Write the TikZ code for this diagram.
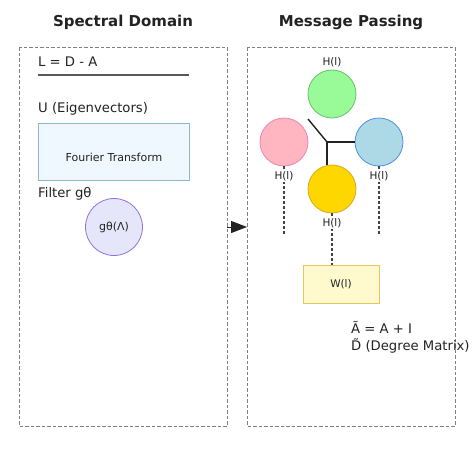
\documentclass[tikz,border=0pt]{standalone}
\usepackage{fontspec}
\setmainfont{DejaVu Sans}
\usetikzlibrary{arrows.meta}
\definecolor{boxgray}{HTML}{808080}
\definecolor{ftfill}{HTML}{F0F8FF}
\definecolor{ftdraw}{HTML}{8DB6CF}
\definecolor{lavfill}{HTML}{E6E6FA}
\definecolor{lavdraw}{HTML}{9370DB}
\definecolor{grfill}{HTML}{98FB98}
\definecolor{grdraw}{HTML}{6DBE6D}
\definecolor{pkfill}{HTML}{FFB6C1}
\definecolor{pkdraw}{HTML}{EE82B4}
\definecolor{blfill}{HTML}{ADD8E6}
\definecolor{bldraw}{HTML}{4A90E2}
\definecolor{gdfill}{HTML}{FFD700}
\definecolor{gddraw}{HTML}{DAA520}
\definecolor{wfill}{HTML}{FFFACD}
\definecolor{wdraw}{HTML}{E8C55E}
\definecolor{ink}{HTML}{222222}
\tikzset{
  panel/.style={draw=boxgray, dash pattern=on 3.5pt off 2pt, line width=0.9pt},
  title/.style={font=\bfseries\fontsize{15}{17}\selectfont, text=ink},
  lbl/.style={font=\fontsize{13.2}{15}\selectfont, text=ink, anchor=west, inner sep=0pt},
  small/.style={font=\fontsize{11}{13}\selectfont, text=ink, inner sep=1pt},
  tiny/.style={font=\fontsize{10.5}{12}\selectfont, text=ink, inner sep=1pt},
  gnode/.style={circle, minimum size=48pt, inner sep=0pt, line width=0.8pt},
  edge/.style={draw=ink, line width=1.4pt},
  dline/.style={draw=ink!85, dash pattern=on 3pt off 2pt, line width=1.4pt},
}
\begin{document}
\begin{tikzpicture}[x=1pt,y=-1pt]
\useasboundingbox (0,0) rectangle (474,474);
% titles
\node[title] (t1) at (123,22) {Spectral Domain};
\node[title] (t2) at (351,22) {Message Passing};
% panels
\draw[panel] (19,47) rectangle (227,426);
\draw[panel] (247,47) rectangle (455,426);
\coordinate (lpe) at (227,227);
\coordinate (rpw) at (247,227);
% left content
\node[lbl] (lda) at (38,62) {L = D - A};
\coordinate (ul1) at (38,75);
\coordinate (ul2) at (189,75);
\draw[draw=ink!75, line width=1.4pt] (ul1) -- (ul2);
\node[lbl] (ueig) at (38,109) {U (Eigenvectors)};
\draw[draw=ftdraw, fill=ftfill, line width=1pt] (38,123) rectangle (189,180);
\node[small] (ftt) at (114,157) {Fourier Transform};
\node[lbl] (filt) at (38,194) {Filter gθ};
\node[circle, draw=lavdraw, fill=lavfill, line width=0.8pt, minimum size=57pt, inner sep=0pt, small] (g) at (114,227) {gθ(Λ)};
% arrow
\draw[-{Triangle[length=16pt,width=12pt]}, draw=ink, fill=ink, line width=1pt] (lpe) -- (rpw);
% right content
\node[tiny] (h0) at (332,62) {H(l)};
\node[gnode, draw=grdraw, fill=grfill] (ng) at (332,94) {};
\node[gnode, draw=pkdraw, fill=pkfill] (np) at (284,142) {};
\node[gnode, draw=bldraw, fill=blfill] (nb) at (379,142) {};
\node[gnode, draw=gddraw, fill=gdfill] (ny) at (332,189) {};
\coordinate (hub) at (327,142);
\coordinate (dg) at (308,119);
\draw[edge] (dg) -- (hub);
\draw[edge] (hub) -- (nb.west);
\draw[edge] (hub) -- (hub |- ny.north);
% W box
\node[draw=wdraw, fill=wfill, line width=1pt, minimum width=76pt, minimum height=38pt, inner sep=0pt, tiny] (w) at (341,284) {W(l)};
% dashed lines
\coordinate (pe) at (284,236);
\coordinate (be) at (379,236);
\draw[dline] (np.south) -- (pe);
\draw[dline] (nb.south) -- (be);
\draw[dline] (ny.south) -- (ny.south |- w.north);
\node[tiny, fill=white] (hp) at (284,176) {H(l)};
\node[tiny, fill=white] (hb) at (379,176) {H(l)};
\node[tiny, fill=white] (hy) at (332,223) {H(l)};
% formulas
\node[lbl] (fa) at (351,327) {Ã = A + I};
\node[lbl] (fd) at (351,346) {D̃ (Degree Matrix)};
\end{tikzpicture}
\end{document}
